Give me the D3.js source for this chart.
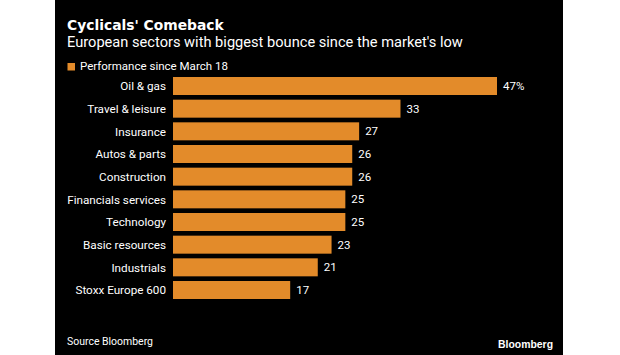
<!DOCTYPE html>
<html>
<head>
<meta charset="utf-8">
<script src="https://cdn.jsdelivr.net/npm/d3@7"></script>
<style>
  html, body { margin: 0; padding: 0; background: #ffffff; }
  svg { display: block; }
  text { font-family: Roboto, "Noto Sans", sans-serif; }
</style>
</head>
<body>
<script>
const categories = ["Oil & gas", "Travel & leisure", "Insurance", "Autos & parts", "Construction",
  "Financials services", "Technology", "Basic resources", "Industrials", "Stoxx Europe 600"];
const values = [47, 33, 27, 26, 26, 25, 25, 23, 21, 17];
const valueLabels = ["47%", "33", "27", "26", "26", "25", "25", "23", "21", "17"];
const title = "Cyclicals' Comeback";
const subtitle = "European sectors with biggest bounce since the market's low";
const legendLabel = "Performance since March 18";
const source = "Source Bloomberg";

const W = 620, H = 355;
const svg = d3.select("body").append("svg").attr("width", W).attr("height", H);

// fit a text selection's font size so its widest member spans the target width
function fit(sel, target, base) {
  sel.attr("font-size", base);
  let maxW = 0;
  sel.each(function () { maxW = Math.max(maxW, this.getComputedTextLength()); });
  if (maxW > 0) sel.attr("font-size", base * target / maxW);
  return sel;
}

svg.append("rect").attr("x", 55).attr("y", 0).attr("width", 508).attr("height", H).attr("fill", "#000");

const orange = "#E38B2A";

fit(svg.append("text").attr("x", 67).attr("y", 30)
  .attr("fill", "#fff").attr("font-weight", "bold")
  .style("font-family", "'DejaVu Sans', sans-serif")
  .text(title), 157, 14);
fit(svg.append("text").attr("x", 67).attr("y", 47)
  .attr("fill", "#fff")
  .text(subtitle), 396, 14);

svg.append("rect").attr("x", 67.5).attr("y", 63).attr("width", 7.5).attr("height", 7.5).attr("fill", orange);
fit(svg.append("text").attr("x", 80).attr("y", 70)
  .attr("fill", "#fff")
  .text(legendLabel), 148, 12);

const x = d3.scaleLinear().domain([0, 47]).range([173, 497]);
const y = d3.scaleBand().domain(categories).range([77, 299]).paddingInner(0.206).paddingOuter(0);

const g = svg.append("g");
g.selectAll("rect.bar").data(categories).join("rect")
  .attr("class", "bar")
  .attr("x", x(0))
  .attr("y", d => y(d))
  .attr("width", (d, i) => x(values[i]) - x(0))
  .attr("height", y.bandwidth())
  .attr("fill", orange);

fit(g.selectAll("text.cat").data(categories).join("text")
  .attr("class", "cat")
  .attr("x", 166)
  .attr("y", d => y(d) + y.bandwidth() / 2)
  .attr("dy", "0.36em")
  .attr("text-anchor", "end")
  .attr("fill", "#fff")
  .text(d => d), 99, 12);

g.selectAll("text.val").data(categories).join("text")
  .attr("class", "val")
  .attr("x", (d, i) => x(values[i]) + 6)
  .attr("y", d => y(d) + y.bandwidth() / 2)
  .attr("dy", "0.36em")
  .attr("fill", "#fff").attr("font-size", 11.5)
  .text((d, i) => valueLabels[i]);

fit(svg.append("text").attr("x", 67).attr("y", 345)
  .attr("fill", "#fff")
  .text(source), 86, 12);

fit(svg.append("text").attr("x", 553).attr("y", 348)
  .attr("text-anchor", "end")
  .attr("fill", "#fff").attr("font-weight", "bold")
  .style("font-family", "'Liberation Sans', Arial, sans-serif")
  .text("Bloomberg"), 55, 11);
</script>
</body>
</html>
